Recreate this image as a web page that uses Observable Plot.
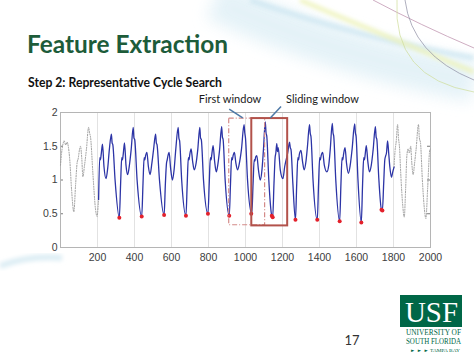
<!DOCTYPE html>
<html>
<head>
<meta charset="utf-8">
<script src="https://cdn.jsdelivr.net/npm/d3@7"></script>
<script src="https://cdn.jsdelivr.net/npm/@observablehq/plot@0.6"></script>
<style>
  html, body { margin: 0; padding: 0; background: #fff; }
  #slide { position: relative; width: 474px; height: 355px; overflow: hidden; background: #fff; }
  #bg { position: absolute; left: 0; top: 0; z-index: 0; }
  #chart { position: absolute; left: 0; top: 90px; z-index: 1; }
</style>
</head>
<body>
<div id="slide">
  <svg id="bg" width="474" height="355" xmlns="http://www.w3.org/2000/svg">
    <defs>
      <filter id="b8" x="-50%" y="-50%" width="200%" height="200%"><feGaussianBlur stdDeviation="8"/></filter>
      <filter id="b2" x="-50%" y="-50%" width="200%" height="200%"><feGaussianBlur stdDeviation="2"/></filter>
    </defs>
    <path d="M215,0 Q330,55 474,82" stroke="#e2f1f7" stroke-width="40" fill="none" filter="url(#b8)" opacity="0.9"/>
    <path d="M250,0 Q360,38 474,58" stroke="#c9e4f0" stroke-width="6" fill="none" filter="url(#b2)" opacity="0.7"/>
    <path d="M300,0 Q390,38 474,72" stroke="#eef3b8" stroke-width="4" fill="none" filter="url(#b2)"/>
    <path d="M373,0 Q420,25 474,48" stroke="#b98aa8" stroke-width="0.7" fill="none"/>
    <path d="M405,0 Q412,55 474,80" stroke="#8c8ca2" stroke-width="0.7" fill="none"/>
    <path d="M397,0 Q392,78 474,92" stroke="#cfdc98" stroke-width="0.7" fill="none"/>
    <path d="M0,266 Q30,255 62,258" stroke="#dcedf4" stroke-width="6" fill="none" filter="url(#b2)"/>
    <text x="27" y="53" font-family="Lato" font-weight="bold" font-size="25" fill="#1d5c3a" textLength="201" lengthAdjust="spacingAndGlyphs">Feature Extraction</text>
    <text x="28" y="87" font-family="Lato" font-weight="bold" font-size="13.5" fill="#111" textLength="194" lengthAdjust="spacingAndGlyphs">Step 2: Representative Cycle Search</text>
    <text x="352" y="345" text-anchor="middle" font-family="Lato" font-size="13" fill="#333">17</text>
    <rect x="400" y="295" width="62" height="32" fill="#006747"/>
    <text x="431.5" y="321.7" text-anchor="middle" font-family="Liberation Serif" font-size="30" fill="#fff" textLength="53" lengthAdjust="spacingAndGlyphs">USF</text>
    <text x="433.5" y="335" text-anchor="middle" font-family="Liberation Serif" font-size="7.6" fill="#006747" textLength="55" lengthAdjust="spacingAndGlyphs">UNIVERSITY OF</text>
    <text x="433.5" y="344.3" text-anchor="middle" font-family="Liberation Serif" font-size="7.6" fill="#006747" textLength="55" lengthAdjust="spacingAndGlyphs">SOUTH FLORIDA</text>
    <text x="435" y="352.3" text-anchor="middle" font-family="Liberation Serif" font-size="4.5" fill="#006747" textLength="50" lengthAdjust="spacingAndGlyphs">► ► ► TAMPA BAY</text>
  </svg>
  <div id="chart"></div>
</div>
<script>
// ---- data ----
const xTicks = [200, 400, 600, 800, 1000, 1200, 1400, 1600, 1800, 2000];
const yTicks = [0, 0.5, 1, 1.5, 2];

// gray dotted lead-in (samples before the analysed segment)
const leadIn = [
  [0,1.22],[8,1.45],[15,1.55],[20,1.58],[28,1.52],[36,1.56],[42,1.50],[50,1.30],[60,0.85],[72,0.53],
  [82,0.95],[90,1.26],[96,1.32],[102,1.44],[108,1.50],[115,1.32],[121,1.05],[130,1.22],[140,1.45],
  [152,1.78],[157,1.70],[163,1.62],[175,1.10],[190,0.55],[198,0.46],[203,0.60],[206,0.71]
];

// blue analysed signal
const activeSignal = [
  [206,0.71],[212,1.33],[216,1.30],[220,1.38],[227,1.53],[235,1.20],[246,1.02],[255,1.17],[264,1.45],[275,1.68],[279,1.55],[283,1.52],[295,1.00],[318,0.44],
  [325,0.95],[331,1.33],[335,1.30],[339,1.38],[346,1.55],[354,1.22],[363,1.08],[373,1.23],[382,1.45],[393,1.78],[397,1.62],[401,1.60],[414,1.00],[439,0.46],
  [446,0.95],[452,1.33],[456,1.30],[460,1.36],[467,1.41],[475,1.20],[484,1.08],[494,1.25],[503,1.45],[514,1.68],[518,1.55],[522,1.52],[535,1.00],[560,0.48],
  [567,0.95],[573,1.25],[577,1.30],[581,1.36],[587,1.41],[595,1.18],[605,1.00],[614,1.15],[623,1.45],[636,1.78],[640,1.62],[644,1.58],[655,1.00],[678,0.47],
  [685,0.95],[691,1.33],[695,1.30],[699,1.38],[706,1.46],[714,1.28],[723,1.15],[733,1.25],[742,1.45],[753,1.78],[757,1.62],[761,1.60],[773,1.00],[797,0.50],
  [804,0.95],[810,1.33],[814,1.30],[818,1.38],[825,1.51],[833,1.28],[842,1.12],[851,1.24],[860,1.45],[871,1.79],[875,1.64],[879,1.60],[890,1.00],[912,0.47],
  [919,0.95],[925,1.33],[929,1.30],[933,1.36],[940,1.41],[948,1.25],[957,1.15],[967,1.25],[978,1.45],[992,1.82],[996,1.70],[1000,1.62],[1011,1.00],[1034,0.50],
  [1041,0.95],[1047,1.30],[1051,1.28],[1055,1.34],[1061,1.36],[1070,1.15],[1080,1.00],[1089,1.15],[1097,1.45],[1107,1.86],[1111,1.70],[1115,1.65],[1126,1.00],[1142,0.47],[1147,0.45],
  [1154,0.95],[1160,1.33],[1164,1.40],[1169,1.54],[1173,1.42],[1177,1.48],[1188,1.15],[1202,1.02],[1212,1.20],[1228,1.40],[1238,1.56],[1242,1.48],[1246,1.45],[1256,0.95],[1270,0.41],
  [1277,0.95],[1283,1.33],[1287,1.30],[1291,1.38],[1300,1.44],[1308,1.28],[1317,1.15],[1327,1.28],[1335,1.50],[1346,1.82],[1350,1.69],[1354,1.64],[1365,1.00],[1388,0.41],
  [1395,0.95],[1401,1.33],[1405,1.30],[1409,1.36],[1417,1.41],[1426,1.22],[1440,1.12],[1450,1.22],[1458,1.45],[1469,1.84],[1473,1.70],[1477,1.65],[1488,1.00],[1509,0.39],
  [1516,0.95],[1522,1.33],[1526,1.30],[1530,1.38],[1538,1.48],[1546,1.25],[1556,1.10],[1566,1.22],[1576,1.45],[1590,1.83],[1594,1.70],[1598,1.64],[1608,1.00],[1626,0.37],
  [1633,0.95],[1639,1.33],[1643,1.30],[1647,1.38],[1653,1.51],[1661,1.28],[1670,1.12],[1680,1.22],[1690,1.45],[1702,1.79],[1706,1.64],[1710,1.60],[1720,1.05],[1735,0.56],[1740,0.55],
  [1747,0.95],[1753,1.30],[1758,1.36],[1762,1.40],[1768,1.58],[1774,1.40],[1780,1.20],[1789,1.04],[1796,1.12],[1803,1.19]
];

// gray dotted tail (samples after the analysed segment)
const tail = [
  [1803,1.19],[1808,1.42],[1815,1.58],[1822,1.82],[1827,1.62],[1832,1.50],[1840,1.05],[1850,0.62],[1858,0.45],
  [1866,0.90],[1872,1.35],[1879,1.46],[1886,1.40],[1893,1.50],[1899,1.25],[1906,1.08],[1914,1.25],[1922,1.45],
  [1935,1.82],[1940,1.62],[1946,1.55],[1956,1.00],[1966,0.60],[1975,0.43],[1985,0.90],[1996,1.44],[2000,1.46]
];

// detected cycle minima (red)
const cycleMinima = [
  [318,0.44],[439,0.46],[560,0.48],[678,0.47],[797,0.50],[912,0.47],[1031,0.50],[1142,0.47],[1147,0.45],
  [1270,0.41],[1388,0.41],[1509,0.39],[1626,0.37],[1735,0.56],[1740,0.55]
];

// search windows
const windowNames = ["First window", "Sliding window"];
const windowStart = [912, 1034];
const windowEnd = [1106, 1228];
const windowLow = [0.33, 0.32];
const windowHigh = [1.91, 1.91];

// callouts: label position and pointer line
const calloutX = [916, 1416];
const calloutY = [2.19, 2.19];
const pointerFrom = [[912, 2.05], [1192, 2.09]];
const pointerTo = [[985, 1.92], [1134, 1.92]];

// ---- build ----
const windows = windowNames.map((name, i) => ({name, x1: windowStart[i], x2: windowEnd[i], y1: windowLow[i], y2: windowHigh[i]}));
const callouts = windowNames.map((name, i) => ({
  name, x: calloutX[i], y: calloutY[i],
  fx: pointerFrom[i][0], fy: pointerFrom[i][1], tx: pointerTo[i][0], ty: pointerTo[i][1]
}));
const X = d => d[0], Y = d => d[1];

const chart = Plot.plot({
  width: 474,
  height: 180,
  marginLeft: 60,
  marginRight: 44,
  marginTop: 22,
  marginBottom: 23,
  style: {background: "transparent", overflow: "visible", fontFamily: "'Liberation Sans', Arial, sans-serif", fontSize: "10.5px", color: "#404040"},
  x: {domain: [0, 2000], ticks: xTicks, tickSize: 0, tickPadding: 6, tickFormat: d => String(d), label: null},
  y: {domain: [0, 2], ticks: yTicks, tickSize: 0, tickPadding: 3, tickFormat: d => String(d), label: null},
  marks: [
    Plot.ruleX(xTicks.slice(0, -1), {stroke: "#e2e2e2", strokeWidth: 1}),
    Plot.ruleY(yTicks.slice(1, -1), {x1: 0, x2: 16, stroke: "#777"}),
    Plot.ruleY(yTicks.slice(1, -1), {x1: 1984, x2: 2000, stroke: "#777"}),
    Plot.frame({stroke: "#b5b5b5"}),
    Plot.line(leadIn, {x: X, y: Y, stroke: "#9a9a9a", strokeWidth: 1, strokeDasharray: "1,1.5", curve: "monotone-x"}),
    Plot.line(tail, {x: X, y: Y, stroke: "#9a9a9a", strokeWidth: 1, strokeDasharray: "1,1.5", curve: "monotone-x"}),
    Plot.line(activeSignal, {x: X, y: Y, stroke: "#2c34a6", strokeWidth: 1.3, curve: "monotone-x"}),
    Plot.dot(cycleMinima, {x: X, y: Y, r: 2, fill: "#e3202b", stroke: null}),
    Plot.rect(windows.slice(0, 1), {x1: "x1", x2: "x2", y1: "y1", y2: "y2", fill: "none", stroke: "#d48a88", strokeWidth: 1.2, strokeDasharray: "5,2,1,2"}),
    Plot.rect(windows.slice(1), {x1: "x1", x2: "x2", y1: "y1", y2: "y2", fill: "none", stroke: "#b2524b", strokeWidth: 2}),
    Plot.link(callouts, {x1: "fx", y1: "fy", x2: "tx", y2: "ty", stroke: "#4d78a6", strokeWidth: 1.5}),
    Plot.text(callouts, {x: "x", y: "y", text: "name", fontFamily: "Lato, 'Open Sans', sans-serif", fontSize: 11, fill: "#1a1a1a", textAnchor: "middle"})
  ]
});
document.getElementById("chart").appendChild(chart);
</script>
</body>
</html>
